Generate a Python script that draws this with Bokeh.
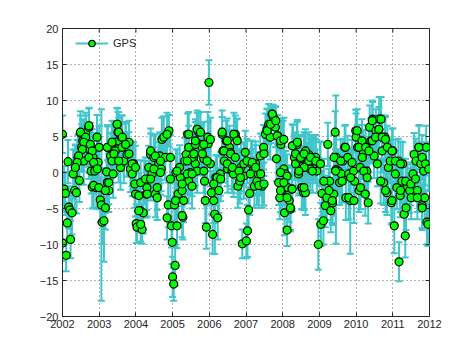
import math
from bokeh.plotting import figure
from bokeh.models import (Whisker, TeeHead, ColumnDataSource, FixedTicker,
                          Legend, LegendItem, Range1d)
from bokeh.embed import file_html
from bokeh.resources import INLINE

# ---------------- data ----------------
years = [
    # pass 1
    2002.00, 2002.00, 2002.04, 2002.08, 2002.10, 2002.13, 2002.15, 2002.17, 2002.20, 2002.22,
    2002.26, 2002.29, 2002.33, 2002.35, 2002.38, 2002.42, 2002.46, 2002.49, 2002.52, 2002.55,
    2002.58, 2002.63, 2002.67, 2002.72, 2002.74, 2002.78, 2002.81, 2002.83, 2002.88, 2002.92,
    2002.94, 2002.97, 2003.00,
    2003.03, 2003.06, 2003.08, 2003.13, 2003.15, 2003.17, 2003.20, 2003.22, 2003.23, 2003.26,
    2003.31, 2003.35, 2003.38, 2003.40, 2003.44, 2003.49, 2003.51, 2003.53, 2003.58, 2003.60,
    2003.62, 2003.67, 2003.72, 2003.76, 2003.81, 2003.85, 2003.90, 2003.94, 2003.97, 2003.99,
    2004.01, 2004.03, 2004.08, 2004.12, 2004.17, 2004.20, 2004.23, 2004.28, 2004.30, 2004.35,
    2004.40, 2004.44, 2004.49, 2004.53, 2004.58, 2004.62, 2004.65, 2004.69, 2004.71, 2004.76,
    2004.80, 2004.85, 2004.88, 2004.90, 2004.94, 2004.97, 2004.99,
    2005.00, 2005.03, 2005.05, 2005.07, 2005.09, 2005.12, 2005.15, 2005.19, 2005.21, 2005.26,
    2005.28, 2005.30, 2005.33, 2005.37, 2005.41, 2005.44, 2005.48, 2005.53, 2005.58, 2005.62,
    2005.67, 2005.71, 2005.76, 2005.80, 2005.85, 2005.87, 2005.89, 2005.92, 2005.96, 2005.97,
    2005.99,
    2006.03, 2006.06, 2006.09, 2006.12, 2006.15, 2006.18, 2006.23, 2006.26, 2006.30, 2006.35,
    2006.37, 2006.41, 2006.46, 2006.50, 2006.55, 2006.57, 2006.62, 2006.66, 2006.71, 2006.75,
    2006.78, 2006.83, 2006.86, 2006.90, 2006.94, 2006.98,
    2007.01, 2007.04, 2007.07, 2007.10, 2007.14, 2007.18, 2007.23, 2007.26, 2007.30, 2007.34,
    2007.39, 2007.44, 2007.48, 2007.53, 2007.57, 2007.62, 2007.66, 2007.71, 2007.75, 2007.80,
    2007.83, 2007.86, 2007.89, 2007.92, 2007.95, 2007.98,
    2008.01, 2008.03, 2008.05, 2008.08, 2008.12, 2008.14, 2008.18, 2008.21, 2008.25, 2008.28,
    2008.32, 2008.35, 2008.39, 2008.43, 2008.48, 2008.52, 2008.57, 2008.62, 2008.66, 2008.71,
    2008.75, 2008.80, 2008.84, 2008.89, 2008.93, 2008.97,
    2009.01, 2009.04, 2009.07, 2009.11, 2009.16, 2009.20, 2009.23, 2009.28, 2009.31, 2009.36,
    2009.39, 2009.43, 2009.45, 2009.46, 2009.51, 2009.55, 2009.60, 2009.64, 2009.69, 2009.72,
    2009.77, 2009.80, 2009.84, 2009.89, 2009.93, 2009.96, 2009.99,
    2010.00, 2010.04, 2010.08, 2010.11, 2010.16, 2010.20, 2010.25, 2010.29, 2010.33, 2010.37,
    2010.40, 2010.45, 2010.49, 2010.54, 2010.58, 2010.63, 2010.68, 2010.71, 2010.75, 2010.79,
    2010.84, 2010.88, 2010.93, 2010.96,
    2011.00, 2011.04, 2011.07, 2011.11, 2011.15, 2011.17, 2011.20, 2011.25, 2011.27, 2011.31,
    2011.34, 2011.36, 2011.40, 2011.46, 2011.50, 2011.55, 2011.58, 2011.63, 2011.67, 2011.72,
    2011.76, 2011.80, 2011.84, 2011.87, 2011.91, 2011.93, 2011.96, 2011.99,
    # pass 2 (dense clusters)
    2002.72, 2002.49, 2002.63, 2002.58, 2002.76, 2002.54, 2002.81, 2002.44, 2002.72, 2002.40,
    2002.85, 2002.35, 2002.95, 2003.22, 2003.35, 2003.49, 2003.53, 2003.63, 2003.40, 2003.53,
    2003.72, 2003.81, 2003.90, 2003.99, 2002.85, 2002.99, 2003.17, 2003.26, 2004.13, 2004.26,
    2004.40, 2004.53, 2004.67, 2004.49, 2004.67, 2004.40, 2004.58, 2004.08, 2004.13, 2004.31,
    2004.85, 2004.94, 2005.12, 2005.26, 2005.40, 2005.53, 2005.44, 2005.62, 2005.67, 2005.08,
    2005.26,
    2005.44, 2005.67, 2005.76, 2005.62, 2005.85, 2006.03, 2005.58, 2005.81, 2005.94, 2005.40,
    2005.53, 2005.85, 2006.21, 2006.12, 2006.31, 2006.35, 2006.49, 2006.67, 2006.76, 2006.40,
    2006.58, 2006.71, 2006.49, 2006.63, 2006.81, 2006.94, 2007.03, 2007.17, 2007.26, 2007.40,
    2007.12, 2006.85, 2007.35, 2007.49, 2007.49, 2007.58, 2007.67, 2007.72, 2007.81, 2007.85,
    2007.94, 2008.03, 2007.94, 2008.12, 2008.03, 2007.94, 2008.26, 2008.12, 2008.21, 2008.26,
    2008.40, 2008.35, 2008.49, 2008.62, 2008.71, 2008.58, 2008.44, 2008.81, 2008.90, 2008.53,
    2008.62,
    2008.58, 2008.76, 2008.90, 2008.58, 2009.03, 2009.12, 2009.26, 2009.35, 2009.44, 2009.40,
    2009.58, 2009.71, 2009.62, 2009.85, 2009.80, 2009.94, 2010.03, 2010.08, 2010.17, 2010.26,
    2010.35, 2010.44, 2010.53, 2010.44, 2010.62, 2010.71, 2010.80, 2010.85, 2010.98, 2011.07,
    2011.21, 2010.21, 2010.30, 2010.12, 2010.67, 2010.80, 2010.98, 2011.21, 2011.35, 2011.49,
    2011.62, 2011.71, 2011.80, 2011.89, 2011.98, 2011.67, 2011.80,
]

gps = [
    5.3, -9.8, -2.3, -2.9, -11.5, -7.0, 1.5, -4.8, -5.2, -9.3,
    -5.6, -0.2, -2.5, 0.7, -2.8, 2.1, -1.1, 5.5, 3.5, 4.4,
    1.6, 5.5, 3.9, 6.3, 3.2, 0.2, -2.0, 2.1, 0.2, -2.1,
    4.9, 1.4, 3.5,
    -3.8, -4.5, -6.9, -6.7, -2.5, -4.9, 0.1, -1.4, 3.5, -2.5,
    2.3, 1.6, -0.2, 4.2, 3.0, 6.7, 5.6, 4.4, 0.7, 4.9,
    3.5, 1.6, 3.9, 2.5, 4.2, 0.5, -0.2, 1.2, -1.6, -3.0,
    -7.1, -7.6, -3.2, -5.3, -7.9, -5.6, -1.4, -3.0, -2.1, 0.7,
    2.5, -0.2, 2.1, -3.0, -3.5, 1.2, 2.3, 0.5, 4.6, 4.9,
    2.1, -6.3, -4.5, 5.8, -0.9, -7.4, -9.7,
    -14.5, -15.5, -4.5, -12.9, 0.0, -7.4, -3.0, 0.7, -0.7, -2.5,
    -6.2, -3.9, 1.6, 2.5, 5.3, -1.2, 0.0, -1.9, 2.1, 1.2,
    6.0, 5.6, 3.9, 3.5, 1.9, -1.2, -3.9, -7.6, 4.9, 4.0,
    12.5,
    1.2, -2.8, -8.6, -3.9, -5.8, -0.7, -6.3, -2.5, -0.2, 5.3,
    3.0, 1.6, 4.4, 0.5, 3.5, 2.8, 0.2, -0.2, 5.3, 4.6,
    -1.9, -1.2, 0.7, -9.9, -0.5, 2.8,
    -9.5, -8.1, -5.2, -2.9, 1.2, 0.2, -1.9, 1.2, -1.2, -0.2,
    2.3, -1.9, 3.5, 5.3, 6.0, 6.7, 4.9, 8.1, 7.6, 6.3,
    1.9, 5.1, -1.4, -3.5, 3.9, -2.5,
    4.6, 0.5, -5.6, -0.2, -8.0, -2.1, -3.9, -5.1, -2.3, 3.7,
    2.1, 1.2, 3.9, -0.2, 1.9, -2.1, -2.8, 2.3, 1.2, 2.5,
    0.5, 2.1, 1.9, 1.6, 0.2, -10.0,
    1.2, -7.2, -2.9, -6.7, -4.6, -3.5, 3.9, -1.2, -5.3, -4.2,
    -3.0, 5.6, 0.4, 2.1, 0.2, -1.4, -0.2, 1.6, 3.5, -3.5,
    2.1, -0.2, -3.9, 1.4, 0.2, -1.2, 5.8,
    4.9, 3.5, -2.5, 0.7, 4.4, 2.8, -3.0, 0.2, -4.2, 6.3,
    4.4, 7.4, 2.3, 5.8, 1.2, 7.4, 7.4, 3.0, -1.4, 4.9,
    -2.8, 0.7, 1.6, -4.2,
    3.0, -7.4, -0.2, -2.1, 1.6, -12.4, -3.2, -1.2, 1.2, -5.8,
    -8.8, -4.9, -1.9, -2.5, -3.5, -0.2, 2.5, 1.6, -2.5, 3.5,
    1.2, -4.6, 0.2, -3.5, 3.5, -6.9, -7.2, 0.7,
    # pass 2
    6.5, 5.6, 4.9, 4.2, 3.9, 3.2, 3.0, 2.3, 2.1, 1.4,
    1.4, 0.7, 0.5, 3.5, 4.2, 6.7, 5.6, 4.9, 2.6, 1.6,
    3.9, 2.6, 1.2, 0.7, -1.8, -2.1, -2.5, -1.4, -1.4, -0.9,
    3.0, 2.3, 1.6, 0.5, 0.0, -0.9, -2.1, -5.3, -7.2, -3.0,
    5.3, 2.1, 0.2, -1.6, -0.2, 2.1, 3.5, 3.9, 0.2, -3.9,
    -6.0,
    5.3, 6.0, 5.6, 4.4, 3.9, 4.6, 2.6, 2.6, 1.6, 1.6,
    -0.2, 0.2, -0.7, -1.6, -0.9, 5.6, 4.4, 5.3, 4.4, 3.0,
    2.6, 2.1, 1.2, 0.7, 0.2, 1.2, 1.6, 1.4, 0.7, -0.2,
    -0.2, -0.7, -1.8, -1.6, 2.6, 5.8, 6.7, 8.1, 7.2, 5.1,
    4.4, 4.6, 0.0, -0.5, -1.4, -2.5, -2.3, -3.5, -4.9, 3.7,
    4.2, 2.6, 2.1, 3.0, 1.6, 0.7, 0.2, 0.2, 2.1, -2.1,
    -2.8,
    2.6, 2.1, 1.6, -2.1, 1.2, -1.2, -2.5, -3.9, 0.2, 2.1,
    1.6, 3.5, -1.2, -0.7, -3.5, -3.9, 5.8, 3.5, 2.1, 3.5,
    3.0, 4.4, 4.9, 7.2, 6.0, 4.9, 4.6, 3.5, 3.0, 1.6,
    1.2, 0.2, -0.7, -2.1, -1.2, -2.5, -3.9, -2.5, -1.2, -1.6,
    -0.9, 3.5, 2.1, 1.2, 0.5, -3.5, -4.9,
]

err = [
    2.6, 2.5, 3.2, 3.0, 2.2, 2.8, 3.0, 2.9, 2.6, 2.6,
    3.0, 3.4, 3.1, 3.2, 2.9, 3.1, 3.0, 2.4, 3.2, 3.0,
    3.3, 2.8, 3.1, 2.6, 3.3, 3.1, 3.0, 3.4, 3.1, 2.9,
    3.1, 3.3, 3.0,
    3.1, 13.3, 3.0, 5.7, 3.1, 3.0, 3.3, 3.1, 2.9, 3.0,
    3.2, 3.1, 3.3, 2.9, 3.1, 2.3, 2.8, 3.2, 3.1, 3.0,
    3.3, 3.1, 2.9, 3.1, 3.0, 3.2, 3.1, 3.0, 3.3, 3.1,
    2.7, 2.2, 3.1, 3.0, 2.0, 2.9, 3.0, 3.3, 3.1, 3.0,
    2.9, 3.1, 3.0, 3.2, 3.1, 3.0, 3.3, 3.1, 3.0, 2.9,
    3.1, 3.0, 3.1, 2.2, 3.1, 3.0, 3.0,
    2.8, 2.3, 3.1, 2.8, 3.2, 3.1, 3.0, 3.1, 3.3, 3.0,
    3.1, 3.0, 3.2, 3.1, 2.9, 3.1, 3.0, 3.1, 3.3, 3.0,
    2.3, 2.6, 3.1, 3.2, 3.1, 3.0, 3.1, 3.0, 3.5, 3.1,
    3.1,
    3.1, 3.0, 2.7, 3.1, 5.5, 3.1, 3.0, 3.1, 3.0, 2.4,
    3.1, 3.0, 2.8, 3.3, 3.0, 3.1, 3.0, 3.2, 2.6, 2.8,
    3.0, 3.1, 3.3, 2.0, 3.1, 3.0,
    2.4, 3.6, 3.1, 3.0, 3.2, 3.1, 3.0, 3.1, 3.3, 3.0,
    3.1, 3.0, 3.1, 2.9, 2.9, 2.8, 3.1, 1.3, 1.7, 2.8,
    3.1, 2.9, 3.1, 3.0, 3.1, 3.2,
    2.6, 3.0, 3.1, 3.2, 2.2, 3.1, 3.0, 3.1, 3.0, 2.9,
    3.1, 3.0, 3.1, 3.0, 3.1, 3.0, 2.2, 3.1, 3.0, 3.1,
    3.0, 3.1, 3.0, 3.1, 3.0, 3.5,
    3.1, 3.0, 3.1, 3.3, 3.0, 3.1, 3.0, 3.1, 3.0, 3.1,
    3.0, 2.9, 10.3, 3.1, 3.0, 3.1, 3.0, 3.1, 3.0, 3.1,
    3.0, 3.1, 7.4, 3.1, 3.0, 3.1, 2.9,
    3.3, 3.1, 3.0, 3.1, 3.0, 3.1, 3.0, 3.1, 2.9, 3.0,
    3.1, 2.4, 3.1, 3.0, 3.1, 3.1, 3.1, 3.0, 3.1, 3.0,
    3.1, 3.0, 3.1, 3.0,
    3.1, 3.8, 3.1, 3.0, 3.1, 2.7, 3.0, 3.1, 3.0, 3.1,
    3.0, 3.1, 3.0, 3.1, 3.0, 3.1, 3.0, 3.1, 3.0, 3.1,
    3.0, 3.1, 3.0, 3.1, 3.0, 3.1, 3.0, 3.1,
    # pass 2
    2.5, 2.9, 3.0, 3.1, 3.0, 3.1, 3.0, 3.1, 3.0, 3.1,
    3.0, 3.1, 3.0, 3.1, 3.0, 2.2, 2.8, 3.0, 3.1, 3.0,
    3.1, 3.0, 3.1, 3.0, 3.1, 3.0, 3.1, 3.0, 3.1, 3.0,
    3.1, 3.0, 3.1, 3.0, 3.1, 3.0, 3.1, 3.0, 2.4, 3.1,
    3.0, 3.1, 3.0, 3.1, 3.0, 3.1, 3.0, 3.1, 3.0, 3.1,
    3.0,
    3.1, 2.6, 2.8, 3.0, 3.1, 3.0, 3.1, 3.0, 3.1, 3.0,
    3.1, 3.0, 3.1, 3.0, 3.1, 3.0, 3.1, 3.0, 3.1, 3.0,
    3.1, 3.0, 3.1, 3.0, 3.1, 3.0, 3.1, 3.0, 3.1, 3.0,
    3.1, 3.0, 3.1, 3.0, 3.1, 3.0, 2.6, 1.3, 2.0, 2.9,
    3.1, 3.0, 3.1, 3.0, 3.1, 3.0, 3.1, 3.0, 3.1, 3.0,
    3.1, 3.0, 3.1, 3.0, 3.1, 3.0, 3.1, 3.0, 3.1, 3.0,
    3.1,
    3.0, 3.1, 3.0, 3.1, 3.0, 3.1, 3.0, 3.1, 3.0, 3.1,
    3.0, 3.1, 3.0, 3.1, 3.0, 3.1, 3.0, 3.1, 3.0, 3.1,
    3.0, 3.1, 3.0, 2.8, 3.1, 3.0, 3.1, 3.0, 3.1, 3.0,
    3.1, 3.0, 3.1, 3.0, 3.1, 3.0, 3.1, 3.0, 3.1, 3.0,
    3.1, 3.0, 3.1, 3.0, 3.1, 3.0, 3.1,
]

x_ticks = [2002, 2003, 2004, 2005, 2006, 2007, 2008, 2009, 2010, 2011, 2012]
y_ticks = [-20, -15, -10, -5, 0, 5, 10, 15, 20]
series_label = "GPS"

# ---------------- styles ----------------
CYAN = "#3FC6C9"
GREEN = "#00FF00"
AXIS_COL = "#262626"
FONT = "Liberation Sans"

n = min(len(years), len(gps), len(err))
years, gps, err = years[:n], gps[:n], err[:n]

src = ColumnDataSource(data=dict(
    x=years, y=gps,
    lo=[v - e for v, e in zip(gps, err)],
    hi=[v + e for v, e in zip(gps, err)],
))

x0, x1 = x_ticks[0], x_ticks[-1]
y0, y1 = y_ticks[0], y_ticks[-1]

p = figure(width=466, height=347, output_backend="svg", toolbar_location=None,
           x_range=Range1d(x0, x1), y_range=Range1d(y0, y1),
           min_border_left=62, min_border_right=37,
           min_border_top=28, min_border_bottom=31)
p.background_fill_color = "white"
p.border_fill_color = "white"
p.outline_line_color = AXIS_COL
p.outline_line_width = 1

for ax, ticks in ((p.xaxis[0], x_ticks), (p.yaxis[0], y_ticks)):
    ax.ticker = FixedTicker(ticks=ticks)
    ax.major_tick_in = 4
    ax.major_tick_out = 0
    ax.minor_tick_line_color = None
    ax.axis_line_color = AXIS_COL
    ax.major_tick_line_color = AXIS_COL
    ax.major_label_text_font = FONT
    ax.major_label_text_font_size = "11px"
    ax.major_label_text_color = AXIS_COL
p.xaxis[0].major_label_standoff = 3
p.yaxis[0].major_label_standoff = 4

for g, ticks in ((p.xgrid[0], x_ticks), (p.ygrid[0], y_ticks)):
    g.ticker = FixedTicker(ticks=ticks)
    g.grid_line_color = "#444444"
    g.grid_line_dash = "1 3"
    g.grid_line_width = 1
    g.grid_line_alpha = 0.85

wh = Whisker(source=src, base="x", lower="lo", upper="hi", dimension="height",
             line_color=CYAN, line_width=2,
             upper_head=TeeHead(size=7, line_color=CYAN, line_width=2),
             lower_head=TeeHead(size=7, line_color=CYAN, line_width=2))
wh.level = "underlay"
p.add_layout(wh)

# inward box ticks on the top and right edges (MATLAB "box on")
p.ray(x=x_ticks, y=[y1] * len(x_ticks), length=4, length_units="screen",
      angle=-math.pi / 2, line_color=AXIS_COL, line_width=1)
p.ray(x=[x1] * len(y_ticks), y=y_ticks, length=4, length_units="screen",
      angle=math.pi, line_color=AXIS_COL, line_width=1)

leg_line = p.line(x=[float("nan")], y=[float("nan")], line_color=CYAN, line_width=2)
pts = p.scatter(x="x", y="y", source=src, marker="circle", size=8,
                fill_color=GREEN, line_color="black", line_width=1.2)

legend = Legend(items=[LegendItem(label=series_label, renderers=[leg_line, pts])],
                location=(13, 265), orientation="vertical",
                glyph_width=33, glyph_height=16, label_height=16,
                label_standoff=5, padding=0, margin=0, spacing=0,
                border_line_color=None, background_fill_alpha=0,
                label_text_font=FONT, label_text_font_size="11px",
                label_text_color=AXIS_COL)
p.add_layout(legend, "center")

open("out.html", "w").write(file_html(p, INLINE))
